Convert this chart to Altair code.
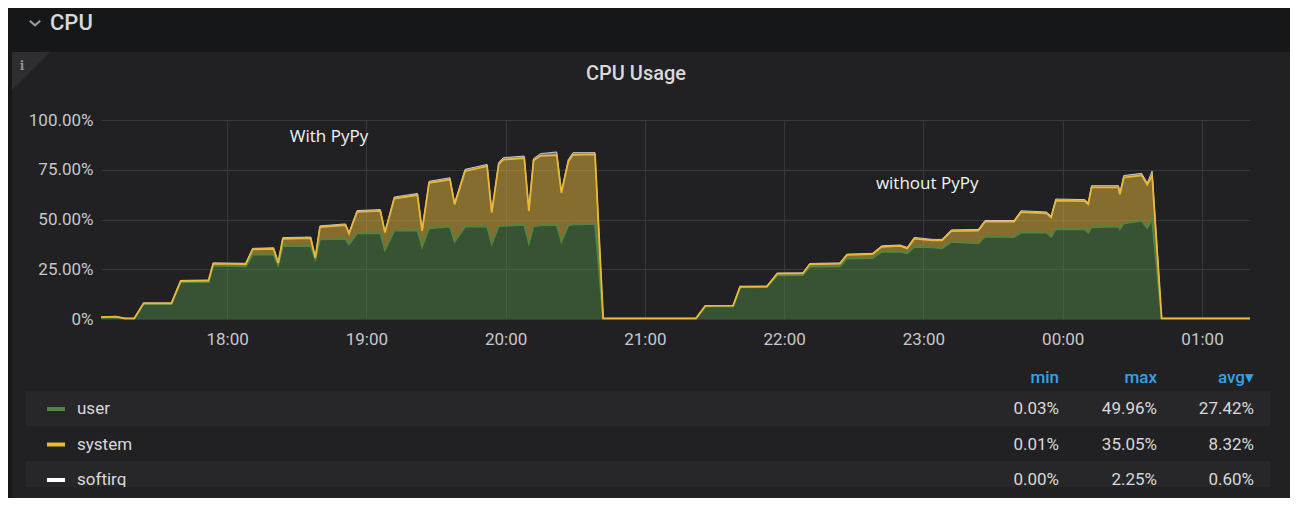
import altair as alt
import pandas as pd

# ---------------- data ----------------
times = [
    "2019-01-01T17:05:40", "2019-01-01T17:12:00", "2019-01-01T17:16:00", "2019-01-01T17:20:00",
    "2019-01-01T17:24:00", "2019-01-01T17:36:00", "2019-01-01T17:40:00", "2019-01-01T17:52:00",
    "2019-01-01T17:54:00", "2019-01-01T18:08:00", "2019-01-01T18:11:00", "2019-01-01T18:20:00",
    "2019-01-01T18:22:00", "2019-01-01T18:24:00", "2019-01-01T18:36:00", "2019-01-01T18:38:00",
    "2019-01-01T18:40:00", "2019-01-01T18:51:00", "2019-01-01T18:52:30", "2019-01-01T18:56:00",
    "2019-01-01T19:06:00", "2019-01-01T19:08:00", "2019-01-01T19:12:00", "2019-01-01T19:22:00",
    "2019-01-01T19:24:00", "2019-01-01T19:27:00", "2019-01-01T19:36:00", "2019-01-01T19:38:00",
    "2019-01-01T19:42:30", "2019-01-01T19:52:00", "2019-01-01T19:54:00", "2019-01-01T19:57:00",
    "2019-01-01T19:59:00", "2019-01-01T20:08:00", "2019-01-01T20:10:00", "2019-01-01T20:12:00",
    "2019-01-01T20:15:00", "2019-01-01T20:22:00", "2019-01-01T20:24:00", "2019-01-01T20:27:00",
    "2019-01-01T20:29:00", "2019-01-01T20:38:30", "2019-01-01T20:42:00", "2019-01-01T21:22:00",
    "2019-01-01T21:26:00", "2019-01-01T21:38:00", "2019-01-01T21:41:00", "2019-01-01T21:52:30",
    "2019-01-01T21:57:00", "2019-01-01T22:08:00", "2019-01-01T22:11:00", "2019-01-01T22:24:00",
    "2019-01-01T22:27:00", "2019-01-01T22:38:00", "2019-01-01T22:42:00", "2019-01-01T22:50:00",
    "2019-01-01T22:53:00", "2019-01-01T22:56:00", "2019-01-01T23:04:00", "2019-01-01T23:08:00",
    "2019-01-01T23:12:00", "2019-01-01T23:23:36", "2019-01-01T23:26:30", "2019-01-01T23:39:00",
    "2019-01-01T23:42:00", "2019-01-01T23:53:00", "2019-01-01T23:55:00", "2019-01-01T23:57:00",
    "2019-01-02T00:09:30", "2019-01-02T00:11:00", "2019-01-02T00:12:24", "2019-01-02T00:24:00",
    "2019-01-02T00:24:36", "2019-01-02T00:26:18", "2019-01-02T00:34:00", "2019-01-02T00:36:24",
    "2019-01-02T00:38:30", "2019-01-02T00:42:36", "2019-01-02T01:20:40",
]
user = [0.6, 0.8, 0.2, 0.2, 7.6, 7.5, 18.5, 18.6, 26.8, 26.5,
        32.3, 32.5, 26.8, 36.6, 36.8, 30.0, 40.0, 40.3, 37.5, 43.0,
        43.2, 34.6, 44.4, 44.6, 36.3, 45.6, 46.4, 38.8, 46.4, 46.6,
        37.7, 46.6, 46.8, 47.3, 38.0, 46.6, 47.0, 47.3, 38.8, 47.0,
        47.5, 47.8, 0.2, 0.2, 6.4, 6.4, 15.9, 16.0, 21.9, 22.0,
        26.2, 26.4, 30.4, 30.6, 33.8, 33.8, 33.0, 36.3, 36.0, 35.5,
        38.8, 38.0, 41.4, 41.2, 43.4, 43.4, 41.4, 45.1, 45.1, 43.4,
        46.1, 46.4, 45.2, 48.1, 49.3, 45.8, 49.96, 0.2, 0.2]
system = [0.3, 0.4, 0.1, 0.1, 0.3, 0.4, 0.6, 0.7, 1.0, 1.1,
          2.7, 2.8, 1.3, 3.7, 3.8, 0.7, 6.2, 6.9, 5.4, 10.8,
          11.1, 8.8, 16.1, 17.7, 8.0, 22.8, 23.7, 18.8, 27.9, 30.2,
          15.7, 31.2, 33.3, 33.6, 16.3, 33.0, 35.0, 35.05, 24.6, 32.2,
          35.0, 34.9, 0.1, 0.1, 0.2, 0.3, 0.3, 0.3, 0.9, 0.9,
          1.3, 1.4, 1.8, 2.0, 2.5, 2.9, 2.5, 4.1, 3.5, 4.0,
          5.4, 6.4, 7.5, 7.7, 10.3, 9.7, 9.7, 14.4, 14.1, 14.3,
          20.0, 19.7, 17.4, 23.0, 22.9, 21.7, 22.1, 0.1, 0.1]
softirq = [0.1, 0.1, 0.0, 0.0, 0.2, 0.2, 0.3, 0.3, 0.4, 0.4,
           0.5, 0.5, 0.4, 0.6, 0.6, 0.3, 0.6, 0.6, 0.5, 0.7,
           0.7, 0.5, 0.8, 0.8, 0.5, 0.8, 0.9, 0.7, 0.9, 0.9,
           0.6, 0.9, 1.0, 1.0, 0.6, 1.0, 1.1, 1.6, 0.8, 1.0,
           1.1, 0.9, 0.0, 0.0, 0.1, 0.1, 0.2, 0.2, 0.3, 0.3,
           0.4, 0.4, 0.4, 0.4, 0.5, 0.5, 0.5, 0.6, 0.5, 0.5,
           0.6, 0.6, 0.6, 0.6, 0.7, 0.7, 0.7, 0.8, 0.8, 0.8,
           0.9, 0.9, 0.8, 1.0, 1.0, 0.9, 2.25, 0.0, 0.0]

series_names = ["user", "system", "softirq"]
series_colors = ["#508642", "#EAB839", "#FFFFFF"]
legend_min = ["0.03%", "0.01%", "0.00%"]
legend_max = ["49.96%", "35.05%", "2.25%"]
legend_avg = ["27.42%", "8.32%", "0.60%"]
legend_headers = ["min", "max", "avg\u25BE"]

y_ticks = [0, 25, 50, 75, 100]
tick_hours = [(1, 18), (1, 19), (1, 20), (1, 21), (1, 22), (1, 23), (2, 0), (2, 1)]

annot_text = ["With PyPy", "without PyPy"]
annot_time = ["2019-01-01T18:27:00", "2019-01-01T22:39:30"]
annot_value = [91.4, 68.0]

# ---------------- tables ----------------
rows = []
for i, t in enumerate(times):
    for k, (name, vals) in enumerate(zip(series_names, [user, system, softirq])):
        rows.append({"time": t, "series": name, "value": vals[i], "k": k})
df = pd.DataFrame(rows)
leg = pd.DataFrame({"series": series_names, "min": legend_min,
                    "max": legend_max, "avg": legend_avg})
ann = pd.DataFrame({"text": annot_text, "time": annot_time, "value": annot_value})
one = pd.DataFrame({"a": [0]})

PANEL = "#212124"
OUTER = "#161719"
TXT = "#d8d9da"
AX = "#c7c8ca"
FS = 17

x_dom = [alt.DateTime(year=2019, month=1, date=1, hours=17, minutes=5, seconds=40),
         alt.DateTime(year=2019, month=1, date=2, hours=1, minutes=20, seconds=40)]
x_vals = [alt.DateTime(year=2019, month=1, date=d, hours=h) for d, h in tick_hours]
color_scale = alt.Scale(domain=series_names, range=series_colors)
x_axis = alt.Axis(values=x_vals, format="%H:%M", title=None, grid=True,
                  labelPadding=12, tickSize=0)
y_scale = alt.Scale(domain=[0, 100])

# ---------------- decorations ----------------
def box(x, x2, y, y2, color):
    return alt.Chart(one).mark_rect(color=color).encode(
        x=alt.value(x), x2=alt.value(x2), y=alt.value(y), y2=alt.value(y2))

outer_top = box(-93, 1189, -112, -68, OUTER)
outer_left = box(-93, -89, -68, 378, OUTER)
band1 = box(-75, 1169, 271, 306, "#27272a")
band3 = box(-75, 1169, 341, 367, "#27272a")

info_tri = alt.Chart(one).mark_point(
    shape="M -1 -1 L 1 -1 L -1 1 Z", filled=True, color="#2e2e31",
    opacity=1, size=1444, strokeWidth=0).encode(x=alt.value(-70), y=alt.value(-49))
info_i = alt.Chart(one).mark_text(
    text="i", font="DejaVu Serif", fontWeight="bold", fontSize=12, color="#8e939a"
).encode(x=alt.value(-79), y=alt.value(-54))

chevron = alt.Chart(one).mark_point(
    shape="M -1 -0.45 L 0 0.45 L 1 -0.45", filled=False, color="#9a9ca0",
    strokeWidth=2, size=110, opacity=1).encode(x=alt.value(-66), y=alt.value(-97))
header = alt.Chart(one).mark_text(
    text="CPU", font="Roboto", fontSize=22, fontWeight=500, color=TXT,
    align="left", baseline="middle").encode(x=alt.value(-51), y=alt.value(-97))
title = alt.Chart(one).mark_text(
    text="CPU Usage", font="Roboto", fontSize=20, fontWeight=500, color=TXT,
    align="center", baseline="middle").encode(x=alt.value(535), y=alt.value(-46))

# ---------------- main stacked areas ----------------
stacked = alt.Chart(df).transform_stack(
    stack="value", as_=["v0", "v1"], groupby=["time"], sort=[alt.SortField("k", order="ascending")]
)

soft_area = stacked.transform_filter("datum.k == 2").mark_area(
    fillOpacity=0.35, interpolate="linear",
    line={"strokeWidth": 1, "strokeOpacity": 0.7}
).encode(
    x=alt.X("time:T", scale=alt.Scale(domain=x_dom), axis=x_axis),
    y=alt.Y("v1:Q", scale=y_scale,
            axis=alt.Axis(values=y_ticks, title=None, grid=True, labelPadding=8, tickSize=0,
                          labelExpr="datum.value == 0 ? '0%' : format(datum.value, '.2f') + '%'")),
    y2="v0:Q",
    color=alt.Color("series:N", scale=color_scale, legend=None),
)

main_area = stacked.transform_filter("datum.k < 2").mark_area(
    fillOpacity=0.5, interpolate="linear", line={"strokeWidth": 1.8}
).encode(
    x=alt.X("time:T", scale=alt.Scale(domain=x_dom), axis=x_axis),
    y=alt.Y("v1:Q", scale=y_scale, axis=None),
    y2="v0:Q",
    color=alt.Color("series:N", scale=color_scale, legend=None),
)

annots = alt.Chart(ann).mark_text(
    font="Open Sans", fontSize=17, color="#f4f4f4", align="left", baseline="middle"
).encode(
    x=alt.X("time:T", scale=alt.Scale(domain=x_dom), axis=x_axis),
    y=alt.Y("value:Q", scale=y_scale, axis=None),
    text="text:N",
)

# ---------------- legend table ----------------
row_y = alt.Y("series:N", scale=alt.Scale(type="point", domain=series_names,
                                          range=[289, 360], padding=0), axis=None)

swatch = alt.Chart(leg).mark_point(
    shape="M -1 -0.22 L 1 -0.22 L 1 0.22 L -1 0.22 Z", filled=True, opacity=1,
    size=324, strokeWidth=0).encode(
    x=alt.value(-45), y=row_y, color=alt.Color("series:N", scale=color_scale, legend=None))

names = alt.Chart(leg).mark_text(
    font="Roboto", fontSize=FS, color=TXT, align="left", baseline="middle").encode(
    x=alt.value(-24), y=row_y, text="series:N")

def col(field, xpos):
    return alt.Chart(leg).mark_text(
        font="Roboto", fontSize=FS, color=TXT, align="right", baseline="middle").encode(
        x=alt.value(xpos), y=row_y, text=f"{field}:N")

col_min = col("min", 958)
col_max = col("max", 1056)
col_avg = col("avg", 1153)

def head(label, xpos):
    return alt.Chart(one).mark_text(
        text=label, font="Roboto", fontSize=FS, fontWeight=500, color="#33a2e5",
        align="right", baseline="middle").encode(x=alt.value(xpos), y=alt.value(258))

h_min = head(legend_headers[0], 958)
h_max = head(legend_headers[1], 1056)
h_avg = head(legend_headers[2], 1153)

clip_bottom = box(-89, 1188, 367, 378, PANEL)

chart = alt.layer(
    outer_top, outer_left, band1, band3, info_tri, info_i, chevron, header, title,
    soft_area, main_area, annots, swatch, names, col_min, col_max, col_avg,
    h_min, h_max, h_avg, clip_bottom,
).resolve_scale(y="independent").properties(
    width=1149, height=199,
    autosize=alt.AutoSizeParams(type="none"),
    padding={"left": 93, "top": 112, "right": 40, "bottom": 179},
    background=PANEL,
).configure_view(stroke=None).configure_axis(
    labelFont="Roboto", labelFontSize=FS, labelColor=AX,
    gridColor="#38383b", gridWidth=1, domain=False, ticks=False,
)

chart.save("out.html", embed_options={"renderer": "svg", "actions": False})
